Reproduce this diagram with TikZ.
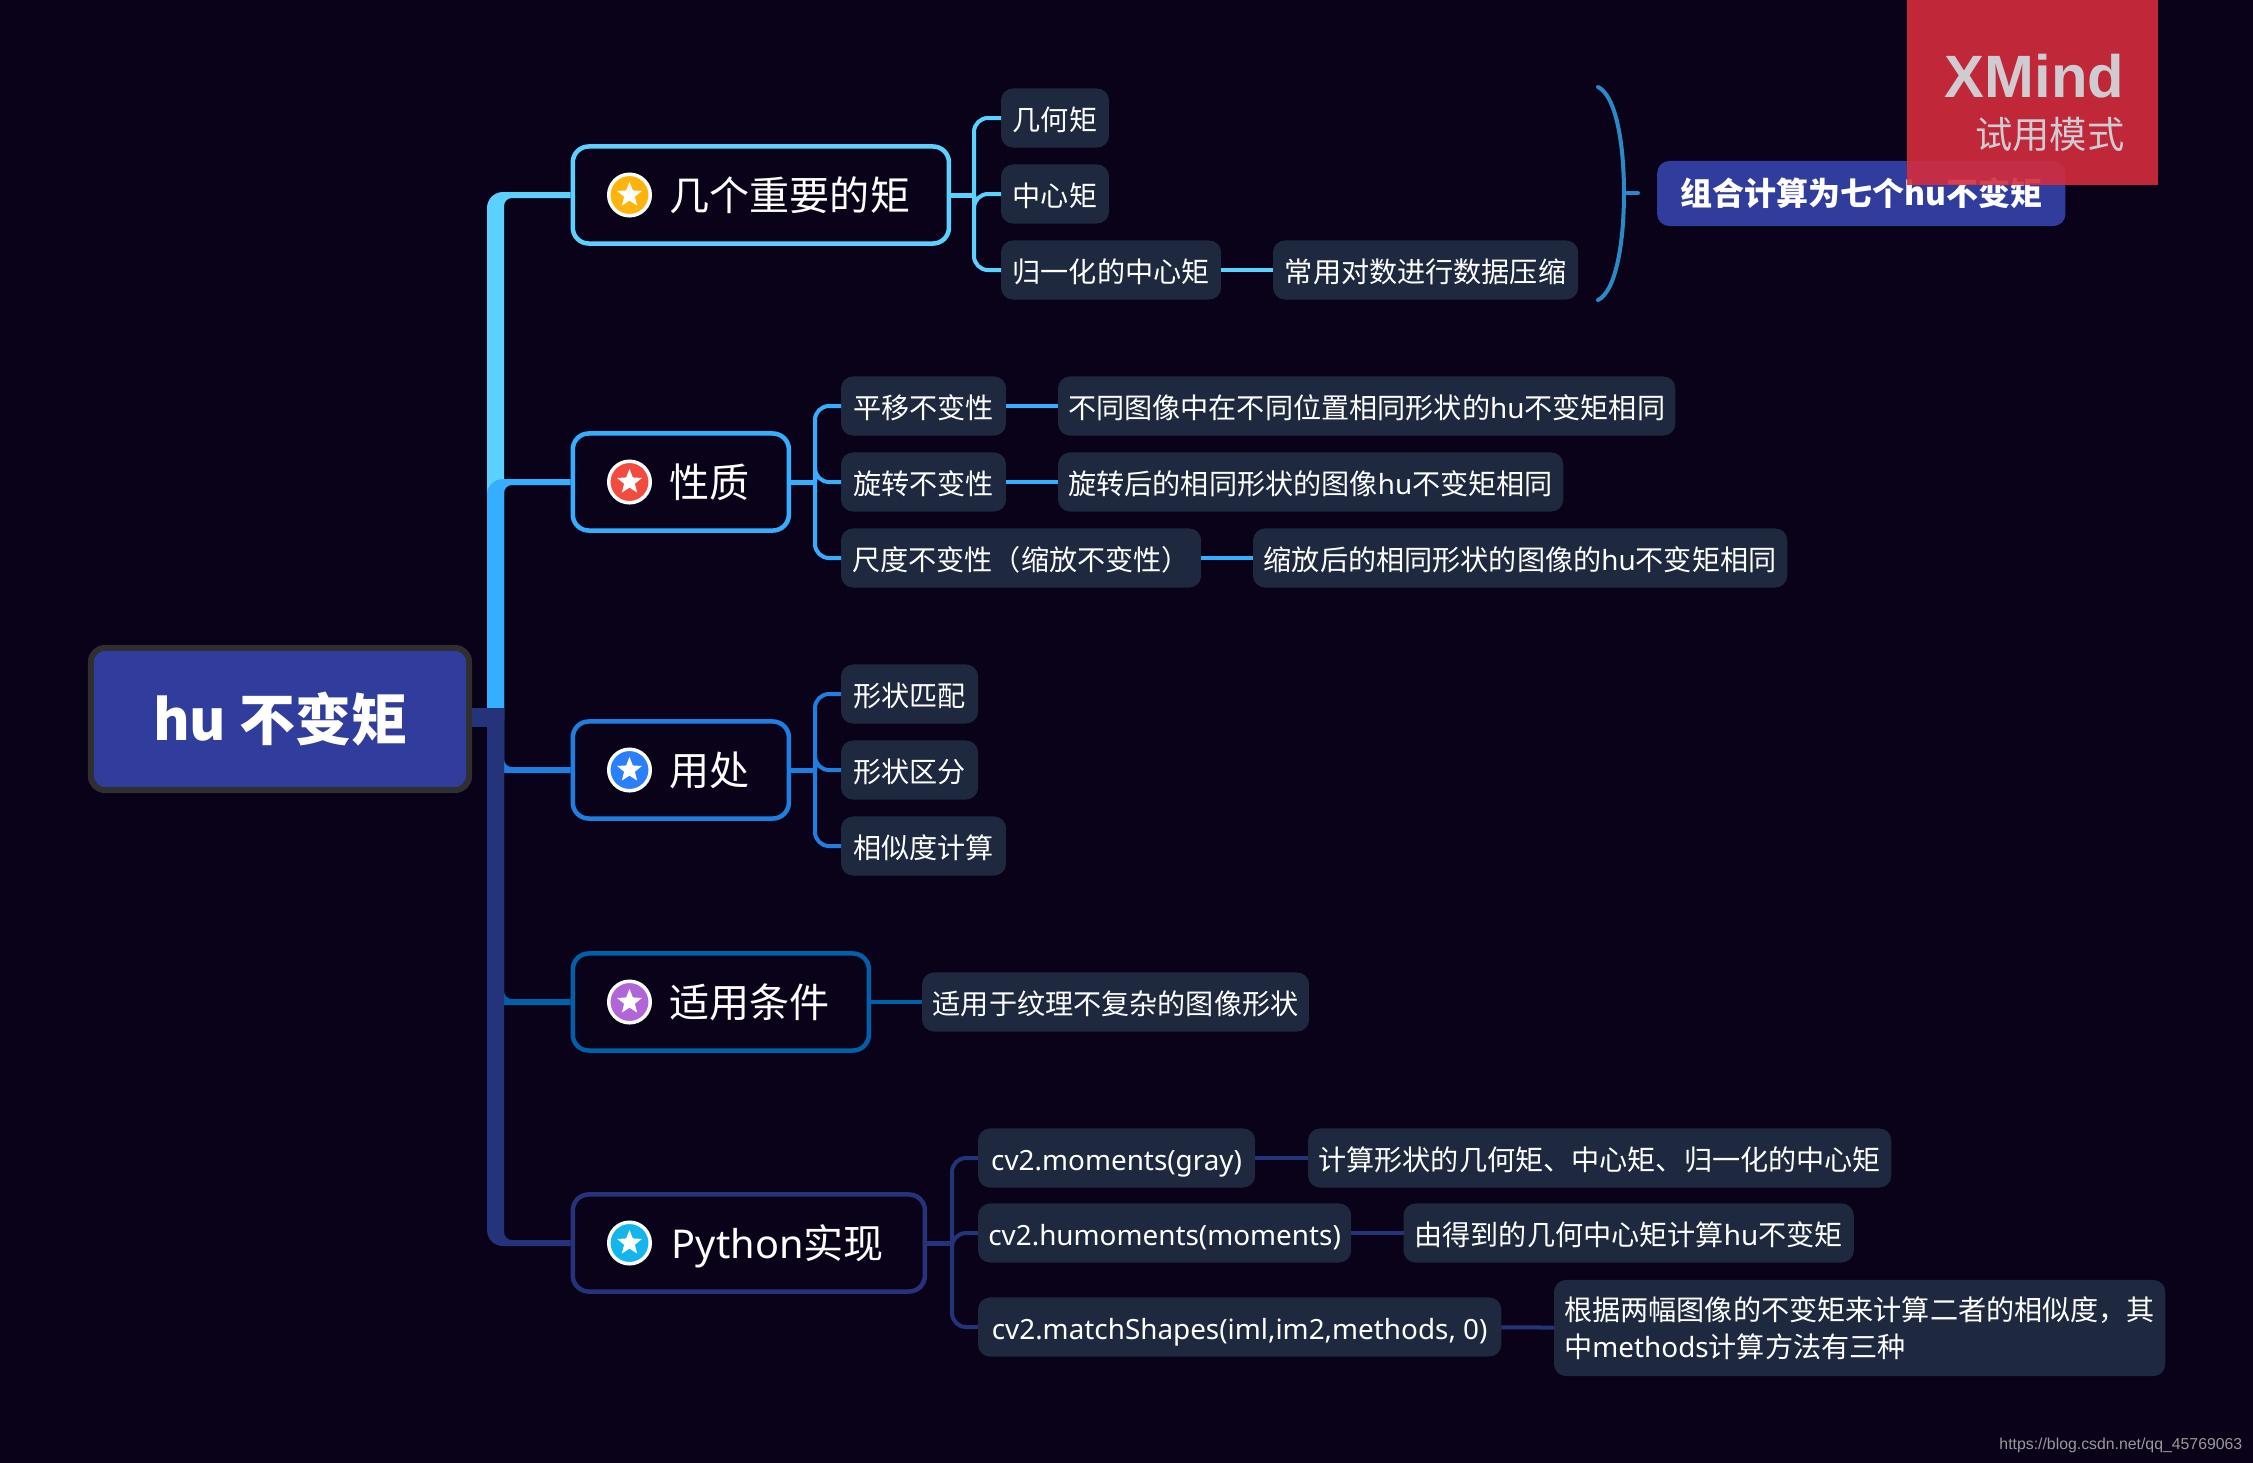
\documentclass[tikz,border=0pt]{standalone}
\usepackage{fontspec}
\usepackage{xcolor}
\setmainfont{Noto Sans CJK SC}
\newfontfamily\latn[Scale=.99]{Noto Sans}
\newfontfamily\wmark{Liberation Sans}
\usetikzlibrary{calc,shapes.geometric}
\definecolor{bgdark}{HTML}{0A0219}
\definecolor{leaffill}{HTML}{1E293F}
\definecolor{rootblue}{HTML}{303D9C}
\definecolor{rootedge}{HTML}{2F2F2F}
\definecolor{brone}{HTML}{5AD1FF}
\definecolor{brtwo}{HTML}{36AEFF}
\definecolor{brthree}{HTML}{1E7FE0}
\definecolor{brfour}{HTML}{0060A8}
\definecolor{brfive}{HTML}{25347A}
\definecolor{bracecol}{HTML}{2A8AC8}
\definecolor{trialred}{HTML}{D42C3C}
\definecolor{trialtext}{HTML}{D0CBD0}
\definecolor{iconone}{HTML}{FFB40D}
\definecolor{icontwo}{HTML}{F44B40}
\definecolor{iconthree}{HTML}{2B7FFB}
\definecolor{iconfour}{HTML}{B265D8}
\definecolor{iconfive}{HTML}{12B5EC}
\tikzset{
  rootbox/.style={draw=rootedge,fill=rootblue,line width=.06cm,rounded corners=.14cm,text=white,
    minimum width=3.78cm,minimum height=1.42cm,inner sep=0pt,font=\fontsize{15.9}{18}\selectfont\bfseries},
  mainbox/.style={draw=#1,line width=.045cm,rounded corners=.16cm,text=white,anchor=west,
    text height=.335cm,text depth=.03cm,
    minimum height=.97cm,inner sep=0pt,font=\fontsize{11.4}{14}\selectfont},
  leafbox/.style={fill=leaffill,rounded corners=.12cm,text=white,anchor=west,outer sep=0pt,
    text height=.26cm,text depth=.016cm,
    minimum height=.59cm,inner sep=0pt,font=\fontsize{8}{10.6}\selectfont},
  sumbox/.style={fill=rootblue,rounded corners=.12cm,text=white,minimum height=.65cm,inner sep=0pt,
    font=\fontsize{9.1}{11}\selectfont\bfseries},
  iconring/.style={circle,draw=white,fill=#1,line width=.035cm,minimum size=.415cm,inner sep=0pt},
  iconstar/.style={star,star points=5,star point ratio=2.3,fill=white,minimum size=.26cm,inner sep=0pt},
  conn/.style={draw=#1,line width=.04cm},
  stub/.style={draw=#1,line width=.05cm},
}
\newcommand{\mlabel}[1]{\hspace*{.58cm}#1}
\newcommand{\branchup}[2]{
  \coordinate (t) at ($(#1.west)+(0,-3)$);
  \coordinate (b) at ($(#1.west)+(0,3)$);
  \fill[#2] (trunkw) [rounded corners=.16cm] -- (trunkw |- t) [sharp corners] -- (t) -- (b)
    [rounded corners=.08cm] -- (trunke |- b) [sharp corners] -- (trunke) -- cycle;
}
\newcommand{\branchdown}[2]{
  \coordinate (t) at ($(#1.west)+(0,-3)$);
  \coordinate (b) at ($(#1.west)+(0,3)$);
  \fill[#2] (trunkw) [rounded corners=.16cm] -- (trunkw |- b) [sharp corners] -- (b) -- (t)
    [rounded corners=.08cm] -- (trunke |- t) [sharp corners] -- (trunke) -- cycle;
}
\begin{document}
\begin{tikzpicture}[x=.01cm,y=-.01cm]
    \fill[bgdark] (0,0) rectangle (2253,1463);
    \useasboundingbox (0,0) rectangle (2253,1463);

    \node[rootbox] (root) at (280,719) {\raisebox{.02cm}{hu 不变矩}};
    \coordinate (trunkw) at (487,719);
    \coordinate (trunke) at (504,719);

    \node[mainbox=brone,minimum width=3.76cm] (main1) at (570.5,195) {\mlabel{几个重要的矩}};
    \node[mainbox=brtwo,minimum width=2.16cm] (main2) at (570.5,482) {\mlabel{性质}};
    \node[mainbox=brthree,minimum width=2.16cm] (main3) at (570.5,770) {\mlabel{用处}};
    \node[mainbox=brfour,minimum width=2.96cm] (main4) at (570.5,1002) {\mlabel{适用条件}};
    \node[mainbox=brfive,minimum width=3.52cm] (main5) at (570.5,1243) {\mlabel{{\latn Python}实现}};

    \branchup{main1}{brone}
    \branchup{main2}{brtwo}
    \branchdown{main3}{brthree}
    \branchdown{main4}{brfour}
    \branchdown{main5}{brfive}
    \fill[brfive] ($(root.east)+(0,-11)$) rectangle ($(trunke)+(0,8)$);

    \node[iconring=iconone] (icon1) at (629.5,195) {};
    \node[iconring=icontwo] (icon2) at (629.5,482) {};
    \node[iconring=iconthree] (icon3) at (629.5,770) {};
    \node[iconring=iconfour] (icon4) at (629.5,1002) {};
    \node[iconring=iconfive] (icon5) at (629.5,1243) {};
    \foreach \i in {1,...,5}
      \node[iconstar] (star\i) at (icon\i) {};

    \node[leafbox,minimum width=1.08cm] (a1) at (1001,118) {几何矩};
    \node[leafbox,minimum width=1.08cm] (a2) at (1001,194) {中心矩};
    \node[leafbox,minimum width=2.20cm] (a3) at (1001,270) {归一化的中心矩};
    \node[leafbox,minimum width=3.05cm] (a4) at (1273,270) {常用对数进行数据压缩};

    \node[leafbox,minimum width=1.65cm] (b1) at (841,406) {平移不变性};
    \node[leafbox,minimum width=6.17cm] (b2) at (1058,406) {不同图像中在不同位置相同形状的{\latn hu}不变矩相同};
    \node[leafbox,minimum width=1.65cm] (b3) at (841,482) {旋转不变性};
    \node[leafbox,minimum width=5.05cm] (b4) at (1058,482) {旋转后的相同形状的图像{\latn hu}不变矩相同};
    \node[leafbox,minimum width=3.60cm] (b5) at (841,558) {尺度不变性（缩放不变性）};
    \node[leafbox,minimum width=5.34cm] (b6) at (1253,558) {缩放后的相同形状的图像的{\latn hu}不变矩相同};

    \node[leafbox,minimum width=1.37cm] (c1) at (841,694) {形状匹配};
    \node[leafbox,minimum width=1.37cm] (c2) at (841,770) {形状区分};
    \node[leafbox,minimum width=1.65cm] (c3) at (841,846) {相似度计算};

    \node[leafbox,minimum width=3.87cm] (d1) at (922,1002) {适用于纹理不复杂的图像形状};

    \node[leafbox,minimum width=2.77cm] (e1) at (978,1158) {\latn cv2.moments(gray)};
    \node[leafbox,minimum width=5.83cm] (e2) at (1308,1158) {计算形状的几何矩、中心矩、归一化的中心矩};
    \node[leafbox,minimum width=3.73cm] (e3) at (978,1233) {\latn cv2.humoments(moments)};
    \node[leafbox,minimum width=4.50cm] (e4) at (1403.5,1233) {由得到的几何中心矩计算{\latn hu}不变矩};
    \node[leafbox,minimum width=5.23cm] (e5) at (978,1327) {\latn cv2.matchShapes(iml,im2,methods, 0)};
    \node[leafbox,text height=,text depth=,minimum width=6.11cm,minimum height=.96cm,align=left] (e6) at (1554,1328)
      {根据两幅图像的不变矩来计算二者的相似度，其\\中{\latn methods}计算方法有三种};

    \coordinate (fork1) at (974,195);
    \coordinate (fork2) at (815,482);
    \coordinate (fork3) at (815,770);
    \coordinate (fork5) at (952,1243);

    \draw[stub=brone] (main1.east) -- (fork1);
    \draw[stub=brtwo] (main2.east) -- (fork2);
    \draw[stub=brthree] (main3.east) -- (fork3);
    \draw[stub=brfive] (main5.east) -- (fork5);
    \foreach \n/\f/\c in {a1/fork1/brone,a2/fork1/brone,a3/fork1/brone,b1/fork2/brtwo,b3/fork2/brtwo,b5/fork2/brtwo,
      c1/fork3/brthree,c2/fork3/brthree,c3/fork3/brthree,e1/fork5/brfive,e3/fork5/brfive,e5/fork5/brfive}
      \draw[conn=\c,rounded corners=.14cm] (\f) |- (\n.west);
    \draw[conn=brone] (a3) -- (a4);
    \draw[conn=brtwo] (b1) -- (b2);
    \draw[conn=brtwo] (b3) -- (b4);
    \draw[conn=brtwo] (b5) -- (b6);
    \draw[conn=brfour] (main4.east) -- (d1.west);
    \draw[conn=brfive] (e1) -- (e2);
    \draw[conn=brfive] (e3) -- (e4);
    \draw[conn=brfive] (e5) -- (e6);

    \coordinate (bracetop) at (1598,87);
    \coordinate (bracemid) at (1624,193);
    \coordinate (bracebot) at (1598,300);
    \coordinate (bracetip) at (1638,193);
    \draw[bracecol,line width=.04cm,line cap=round] (bracetop) .. controls (1615,95) and (1624,140) .. (bracemid)
      .. controls (1624,246) and (1615,292) .. (bracebot);
    \draw[bracecol,line width=.04cm,line cap=round] (bracemid) -- (bracetip);

    \node[sumbox,anchor=west,minimum width=4.08cm] (sum) at (1656.5,193.5) {组合计算为七个hu不变矩};

    \fill[trialred,opacity=.9] (1907,0) rectangle (2158,185);
    \node[anchor=base east,inner sep=0pt,text=trialtext,font=\fontsize{17}{19}\selectfont\wmark\bfseries] (xmind) at (2125,97) {XMind};
    \node[anchor=east,inner sep=0pt,text=trialtext,font=\fontsize{10.6}{12}\selectfont] (trial) at (2125,134) {试用模式};
    \node[anchor=base east,inner sep=0pt,text=gray!80!white,font=\fontsize{4.5}{6}\selectfont\wmark] (url) at (2243,1449) {https://blog.csdn.net/qq\_45769063};
\end{tikzpicture}
\end{document}
